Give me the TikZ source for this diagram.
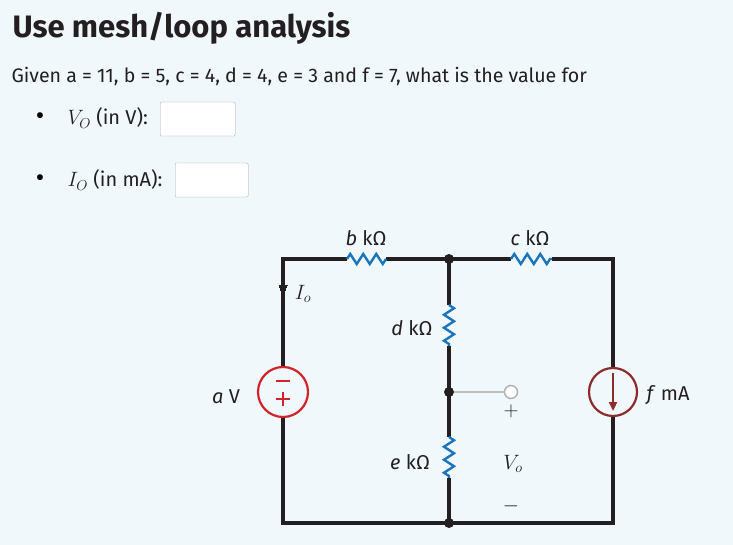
\documentclass[tikz,border=0pt]{standalone}
\usepackage{fontspec}
\setmainfont{Fira Sans}
\usetikzlibrary{decorations.pathmorphing,arrows.meta}
\definecolor{bg}{HTML}{F0F8FC}
\definecolor{resblue}{HTML}{1A75BB}
\definecolor{vred}{HTML}{D2232A}
\definecolor{cred}{HTML}{8E2B2B}
\definecolor{wire}{HTML}{231F20}
\begin{document}
\begin{tikzpicture}[x=1pt,y=-1pt,
  wirel/.style={draw=wire,line width=3.2pt},
  res/.style={draw=resblue,line width=2.4pt,decorate,decoration={zigzag,segment length=13pt,amplitude=5pt}},
  lab/.style={font=\fontsize{20}{22}\selectfont,text=wire},
  dot/.style={circle,fill=wire,inner sep=0pt,minimum size=10pt},
  ansbox/.style={draw=gray!70,fill=white,rounded corners=1pt,minimum width=75pt,minimum height=34pt,inner sep=0pt}]
\fill[bg] (0,0) rectangle (733,545);
\useasboundingbox (0,0) rectangle (733,545);
% header text
\node[anchor=west,font=\fontsize{31}{34}\selectfont\bfseries,text=wire] (title) at (9,28) {Use mesh/loop analysis};
\node[anchor=west,font=\fontsize{19.6}{22}\selectfont,text=wire] (given) at (8,76) {Given a = 11, b = 5, c = 4, d = 4, e = 3 and f = 7, what is the value for};
\node[font=\fontsize{26}{26}\selectfont] (b1) at (40,119) {•};
\node[anchor=west,font=\fontsize{20}{22}\selectfont,text=wire] (q1) at (64,118) {$V_O$ (in V):};
\node[ansbox,anchor=west] (box1) at (160,119) {};
\node[font=\fontsize{26}{26}\selectfont] (b2) at (40,181) {•};
\node[anchor=west,font=\fontsize{20}{22}\selectfont,text=wire] (q2) at (64,180) {$I_O$ (in mA):};
\node[ansbox,anchor=west,minimum width=73pt] (box2) at (175,180) {};
% circuit coordinates
\coordinate (tl) at (283,259);
\coordinate (tm) at (449,259);
\coordinate (tr) at (613,259);
\coordinate (bl) at (283,523);
\coordinate (bm) at (449,523);
\coordinate (br) at (613,523);
\coordinate (mm) at (449,392);
\coordinate (b1s) at (347,259); \coordinate (b1e) at (386,259);
\coordinate (c1s) at (511,259); \coordinate (c1e) at (552,259);
\coordinate (d1s) at (449,305); \coordinate (d1e) at (449,346);
\coordinate (e1s) at (449,437); \coordinate (e1e) at (449,478);
\node[circle,draw=vred,line width=2.2pt,minimum size=50pt,inner sep=0pt] (vs) at (283,392) {};
\node[circle,draw=cred,line width=2.2pt,minimum size=48pt,inner sep=0pt] (cs) at (613,392) {};
\node[circle,draw=gray!60,fill=white,line width=1.5pt,minimum size=13pt,inner sep=0pt] (term) at (511,392) {};
% wires
\draw[wirel] (vs.north) -- (tl) -- (b1s);
\draw[wirel] (b1e) -- (c1s);
\draw[wirel] (c1e) -- (tr) -- (cs.north);
\draw[wirel] (cs.south) -- (br) -- (bl) -- (vs.south);
\draw[wirel] (tm) -- (d1s);
\draw[wirel] (d1e) -- (e1s);
\draw[wirel] (e1e) -- (bm);
\draw[gray!50,line width=2pt] (mm) -- (term.west);
% resistors
\draw[res] (b1s) -- (b1e);
\draw[res] (c1s) -- (c1e);
\draw[res] (d1s) -- (d1e);
\draw[res] (e1s) -- (e1e);
\node[dot] (n1) at (tm) {};
\node[dot] (n2) at (mm) {};
\node[dot] (n3) at (bm) {};
% source symbols
\draw[vred,line width=1.4pt] (276,381) -- (290,381);
\draw[vred,line width=1.4pt] (276,399) -- (290,399) (283,392) -- (283,406);
\draw[cred,line width=2.2pt,-{Triangle[length=9pt,width=8pt]}] (613,373) -- (613,411);
\draw[wire,line width=0pt,fill=wire] (279,285) -- (287,285) -- (283,296) -- cycle;
% labels
\node[lab] (lb) at (366,238) {\textit{b} kΩ};
\node[lab] (lc) at (530,238) {\textit{c} kΩ};
\node[lab] (ld) at (412,328) {\textit{d} kΩ};
\node[lab] (le) at (410,462) {\textit{e} kΩ};
\node[lab] (la) at (226,397) {\textit{a} V};
\node[lab,anchor=west] (lf) at (643,395) {\textit{f} mA};
\node[lab] (lio) at (303,294) {$I_o$};
\node[lab] (lp) at (511,411) {$+$};
\node[lab] (lvo) at (513,464) {$V_o$};
\node[lab] (lm) at (511,506) {$-$};
\end{tikzpicture}
\end{document}
